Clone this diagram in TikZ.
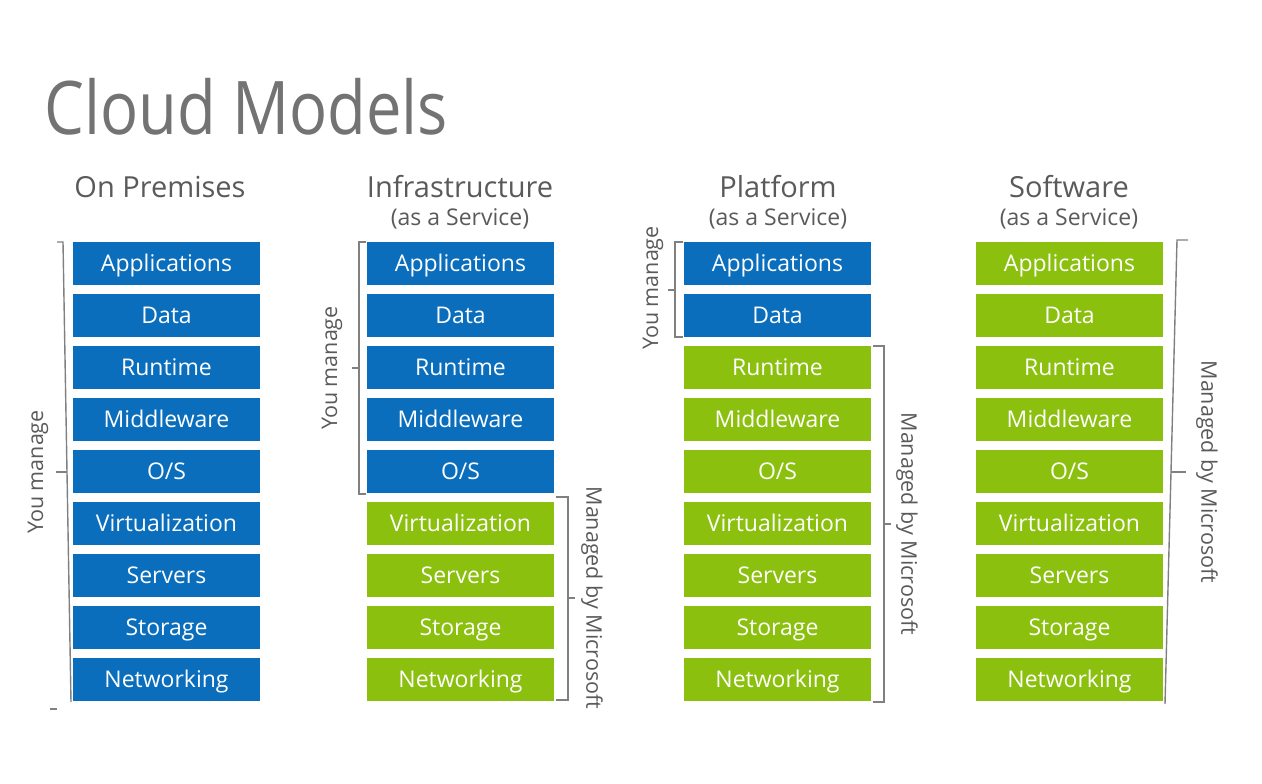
\documentclass[tikz,border=0pt]{standalone}
\usepackage{fontspec}
\setmainfont{Open Sans}
\newfontfamily\titlefont[FakeStretch=0.855]{Open Sans}
\definecolor{msblue}{HTML}{0A6EBD}
\definecolor{msgreen}{HTML}{8BC00E}
\definecolor{txtgray}{HTML}{5A5A5A}
\definecolor{brgray}{HTML}{808080}
\tikzset{
  layerbox/.style={minimum width=187pt,minimum height=43pt,inner sep=0pt,text height=16pt,text depth=0pt,text=white,font=\fontsize{23}{26}\selectfont},
  bluebox/.style={layerbox,fill=msblue},
  greenbox/.style={layerbox,fill=msgreen},
  bracketline/.style={draw=brgray,line width=1.4pt},
  sidelabel/.style={text=txtgray,font=\fontsize{21.5}{24}\selectfont,inner sep=0pt},
  coltitle/.style={text=txtgray,font=\fontsize{29}{32}\selectfont,inner sep=0pt},
  colsub/.style={text=txtgray,font=\fontsize{23}{26}\selectfont,inner sep=0pt},
}
\begin{document}
\begin{tikzpicture}[x=1pt,y=-1pt]
\useasboundingbox (0,0) rectangle (1262,784);
\node[text=txtgray!85,font=\titlefont\fontsize{74}{80}\selectfont,anchor=base west,inner sep=0pt] (title) at (44,134) {Cloud Models};
% column titles
\node[coltitle] (t1) at (160,187) {On Premises};
\node[coltitle] (t2) at (460,187) {Infrastructure};
\node[colsub] (s2) at (460,219) {(as a Service)};
\node[coltitle] (t3) at (778,187) {Platform};
\node[colsub] (s3) at (778,219) {(as a Service)};
\node[coltitle] (t4) at (1069,187) {Software};
\node[colsub] (s4) at (1069,219) {(as a Service)};
% layers
\def\layers{Applications,Data,Runtime,Middleware,O/S,Virtualization,Servers,Storage,Networking}
\foreach \cx/\col/\nblue in {166.5/1/9,460.5/2/5,777.5/3/2,1069.5/4/0}{
  \foreach \lab [count=\i] in \layers {
    \ifnum\i>\nblue
      \node[greenbox] (c\col r\i) at (\cx,{263.5+52*(\i-1)}) {\lab};
    \else
      \node[bluebox] (c\col r\i) at (\cx,{263.5+52*(\i-1)}) {\lab};
    \fi
  }
}
% column 1 bracket
\draw[bracketline] (57,242) -- (63,242) -- (71,702);
\draw[bracketline] (56,472) -- (67,472);
\draw[bracketline] (50,709) -- (57,709);
\node[sidelabel,rotate=90] (ym1) at (38,472) {You manage};
% column 2 brackets
\draw[bracketline] (366,242) -- (359,242) -- (359,494) -- (366,494);
\draw[bracketline] (359,368) -- (352,368);
\node[sidelabel,rotate=90] (ym2) at (332,368) {You manage};
\draw[bracketline] (556,497) -- (568,497) -- (568,700) -- (556,700);
\draw[bracketline] (568,598) -- (575,598);
\node[sidelabel,rotate=-90] (mm2) at (592,598) {Managed by Microsoft};
% column 3 brackets
\draw[bracketline] (683,242) -- (675,242) -- (675,337) -- (683,337);
\draw[bracketline] (675,290) -- (668,290);
\node[sidelabel,rotate=90] (ym3) at (653,288) {You manage};
\draw[bracketline] (873,346) -- (884,346) -- (884,702) -- (873,702);
\draw[bracketline] (884,524) -- (891,524);
\node[sidelabel,rotate=-90] (mm3) at (907,524) {Managed by Microsoft};
% column 4 bracket
\draw[bracketline] (1188,240) -- (1177,240) -- (1165,704);
\draw[bracketline] (1171,472) -- (1186,472);
\node[sidelabel,rotate=-90] (mm4) at (1207,472) {Managed by Microsoft};
\end{tikzpicture}
\end{document}
